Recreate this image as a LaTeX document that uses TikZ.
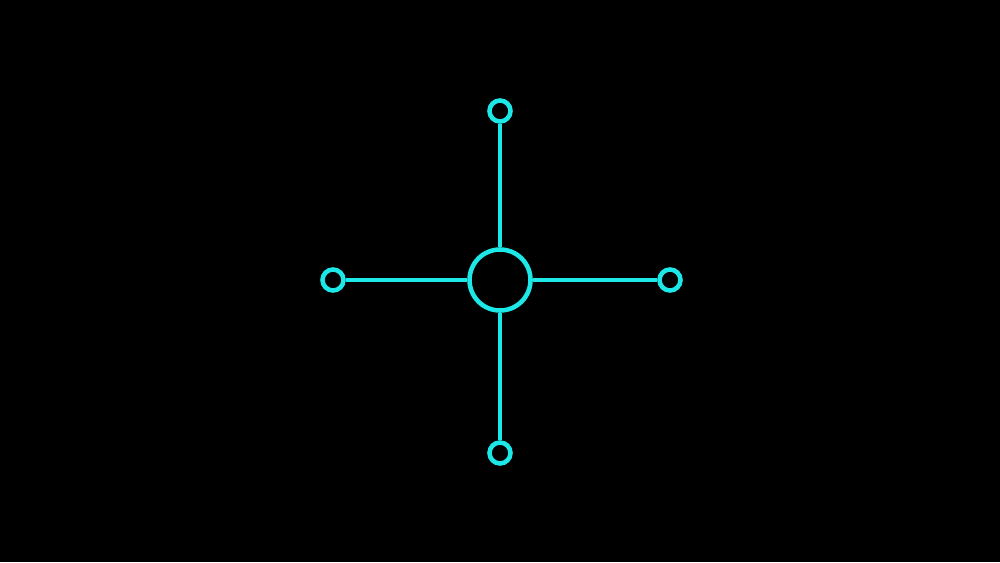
\documentclass[tikz,border=0pt]{standalone}
\usetikzlibrary{calc}
\definecolor{glow}{RGB}{28,232,232}
\tikzset{hub/.style={circle,draw=glow,line width=1.3pt,minimum size=0.61cm,inner sep=0pt},
  leaf/.style={circle,draw=glow,line width=1.3pt,minimum size=0.21cm,inner sep=0pt}}
\begin{document}
\begin{tikzpicture}
      \useasboundingbox (0,0) rectangle (10,5.62);
      \fill[black] (0,0) rectangle (10,5.62);
      \node[hub] (hub) at (5,2.82) {};
      \foreach \Point/\Name in {(5,4.51)/top, (5,1.09)/bottom, (3.33,2.82)/left, (6.70,2.82)/right}
\node[leaf] (\Name) at \Point {};
      \foreach \Name in {top,bottom,left,right}
\draw[glow,line width=1.3pt] (hub) -- (\Name);
    \end{tikzpicture}
\end{document}
